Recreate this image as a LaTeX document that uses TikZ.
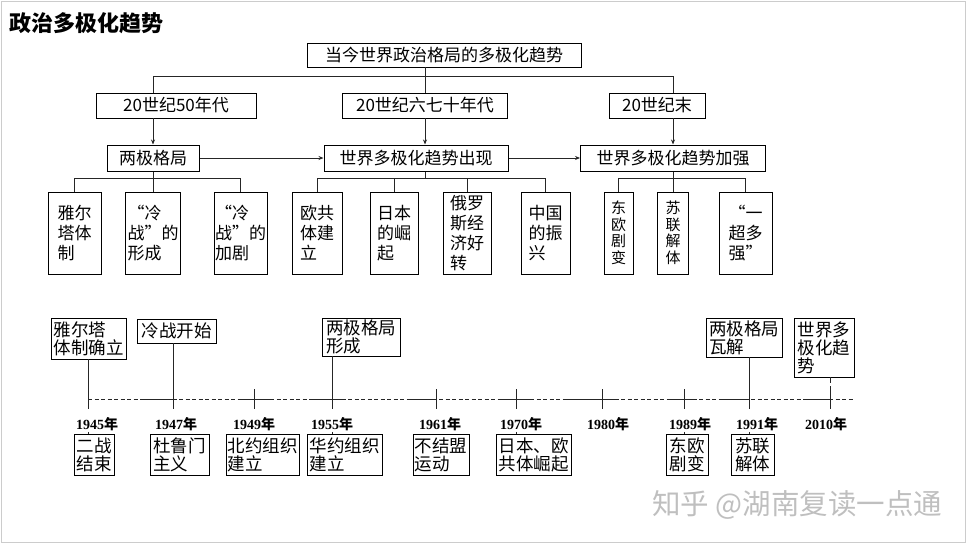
\documentclass[tikz,border=0pt]{standalone}
\usepackage{fontspec}
\setmainfont{Liberation Serif}
\newfontfamily\cjk{Noto Sans CJK SC}
\usetikzlibrary{arrows.meta}
\newcommand\myfs[2]{\fontsize{#1}{#2}\selectfont}
\begin{document}
\begin{tikzpicture}[x=1pt,y=-1pt,
  box/.style={draw, line width=0.9pt, fill=white, inner sep=0pt, align=center},
  lbox/.style={draw, line width=0.9pt, fill=white, inner sep=0pt, align=left},
  wh/.style 2 args={minimum width=#1pt, minimum height=#2pt},
  ln/.style={line width=0.8pt, black!85},
  arr/.style={line width=0.8pt, black!85, -{Stealth[length=5pt,width=4pt]}},
  t17/.style={font=\cjk\myfs{17}{19}},
  tv/.style={font=\cjk\myfs{17}{20}},
  tv4/.style={font=\cjk\myfs{15}{16.5}},
  tl/.style={font=\cjk\myfs{17.5}{18}},
  yr/.style={font=\bfseries\myfs{14}{16}, inner sep=1pt}]
\useasboundingbox (0,0) rectangle (969,544);
\draw[black!20, line width=1pt] (1.5,1.5) rectangle (965,542.5);

% title
\node[font=\cjk\bfseries\myfs{22}{24}, anchor=west, inner sep=0pt] (title) at (9,23) {政治多极化趋势};

% top tree
\node[box, wh={274}{24}, t17] (top) at (444,55) {当今世界政治格局的多极化趋势};
\node[box, wh={160}{25}, t17] (r2a) at (176,105.5) {20{\cjk 世纪}50{\cjk 年代}};
\node[box, wh={165}{25}, t17] (r2b) at (425,105.5) {20{\cjk 世纪六七十年代}};
\node[box, wh={96}{25}, t17] (r2c) at (657,105.5) {20{\cjk 世纪末}};

\node[box, wh={92}{26}, t17, line width=1pt] (r3a) at (153,158) {两极格局};
\node[box, wh={184}{26}, t17, line width=1pt] (r3b) at (416,158) {世界多极化趋势出现};
\node[box, wh={185}{26}, t17, line width=1pt] (r3c) at (673,158) {世界多极化趋势加强};

\draw[ln] (r3a.north |- 0,76) -- (r3c.north |- 0,76);
\draw[ln] (r2b.north |- top.south) -- (r2b.north);
\draw[ln] (r3a.north |- 0,76) -- (r3a.north |- r2a.north);
\draw[ln] (r3c.north |- 0,76) -- (r3c.north |- r2c.north);
\draw[arr] (r3a.north |- r2a.south) -- (r3a.north);
\draw[arr] (r2b.south) -- (r2b.south |- r3b.north);
\draw[arr] (r3c.north |- r2c.south) -- (r3c.north);
\draw[arr] (r3a.east) -- (r3b.west);
\draw[arr] (r3b.east) -- (r3c.west);

% row 4 boxes
\node[lbox, wh={53}{82}, tv] (b1) at (74.5,233) {雅尔\\塔体\\制};
\node[lbox, wh={55}{82}, tv] (b2) at (153,233) {“冷\\战”的\\形成};
\node[lbox, wh={53}{82}, tv] (b3) at (240.5,233) {“冷\\战”的\\加剧};
\node[lbox, wh={50}{82}, tv] (b4) at (317,233) {欧共\\体建\\立};
\node[lbox, wh={48}{82}, tv] (b5) at (394,233) {日本\\的崛\\起};
\node[lbox, wh={48}{82}, tv] (b6) at (467,233) {俄罗\\斯经\\济好\\转};
\node[lbox, wh={49}{82}, tv] (b7) at (545.5,233) {中国\\的振\\兴};
\node[box, wh={29}{82}, tv4] (b8) at (618.5,233) {东\\欧\\剧\\变};
\node[box, wh={31}{82}, tv4] (b9) at (673,233) {苏\\联\\解\\体};
\node[lbox, wh={53}{82}, tv] (b10) at (745.5,233) {“一\\超多\\强”};

\draw[ln] (r3a.south) -- (b2.north);
\draw[ln] (b1.north) -- ++(0,-13) -| (b3.north);
\draw[ln] (b4.north) -- ++(0,-13) -| (b7.north);
\draw[ln] (b5.north) -- ++(0,-13);
\draw[ln] (b6.north) -- ++(0,-13);
\draw[ln] (r2b.south |- r3b.south) -- (r2b.south |- 0,179);
\draw[ln] (r3c.south) -- (b9.north);
\draw[ln] (b8.north) -- ++(0,-13) -| (b10.north);

% timeline axis
\coordinate (t1) at (88,399);
\coordinate (t2) at (173,399);
\coordinate (t3) at (254,399);
\coordinate (t4) at (332,399);
\coordinate (t5) at (436,399);
\coordinate (t6) at (516,399);
\coordinate (t7) at (602,399);
\coordinate (t8) at (684,399);
\coordinate (t9) at (749,399);
\coordinate (t10) at (830,399);
\coordinate (axR) at (853,399);
\draw[ln, dash pattern=on 4pt off 2.5pt] (t1) -- (axR);
\foreach \a/\b in {140/173,240/272,313/345,410/436,500/530,563/617,670/697,720/750,807/830}
  \draw[ln] (\a,399) -- (\b,399);
\foreach \t in {t1,t2,t3,t4,t5,t6,t7,t8,t9,t10}
  \draw[ln, line width=1pt] (\t) ++(0,-10) -- ++(0,20);

% year labels
\node[yr] (y1) at (97,424) {1945{\cjk 年}};
\node[yr] (y2) at (176,424) {1947{\cjk 年}};
\node[yr] (y3) at (254,424) {1949{\cjk 年}};
\node[yr] (y4) at (332,424) {1955{\cjk 年}};
\node[yr] (y5) at (440,424) {1961{\cjk 年}};
\node[yr] (y6) at (521,424) {1970{\cjk 年}};
\node[yr] (y7) at (608,424) {1980{\cjk 年}};
\node[yr] (y8) at (690,424) {1989{\cjk 年}};
\node[yr] (y9) at (757,424) {1991{\cjk 年}};
\node[yr] (y10) at (826,424) {2010{\cjk 年}};

% upper event boxes
\node[lbox, wh={75}{41}, tl] (u1) at (88.5,338.5) {雅尔塔\\体制确立};
\node[lbox, wh={79}{24}, tl] (u2) at (176.5,331) {冷战开始};
\node[lbox, wh={78}{38}, tl] (u3) at (361,337) {两极格局\\形成};
\node[lbox, wh={76}{39}, tl] (u4) at (744,337.5) {两极格局\\瓦解};
\node[lbox, wh={60}{59}, tl] (u5) at (824,347.5) {世界多\\极化趋\\势};
\draw[ln] (t1 |- u1.south) -- (t1);
\draw[ln] (t2 |- u2.south) -- (t2);
\draw[ln] (t4 |- u3.south) -- (t4);
\draw[ln] (t9 |- u4.south) -- (t9);
\draw[ln, dash pattern=on 6pt off 3pt] (t10 |- u5.south) -- (t10);

% lower event boxes
\node[lbox, wh={40}{41}, tl] (l1) at (94,454.5) {二战\\结束};
\node[lbox, wh={59}{41}, tl] (l2) at (179.5,454.5) {杜鲁门\\主义};
\node[lbox, wh={73}{41}, tl] (l3) at (262.5,454.5) {北约组织\\建立};
\node[lbox, wh={75}{41}, tl] (l4) at (344.5,454.5) {华约组织\\建立};
\node[lbox, wh={56}{41}, tl] (l5) at (441,454.5) {不结盟\\运动};
\node[lbox, wh={75}{41}, tl] (l6) at (533.5,454.5) {日本、欧\\共体崛起};
\node[lbox, wh={42}{41}, tl] (l7) at (687,454.5) {东欧\\剧变};
\node[lbox, wh={43}{41}, tl] (l8) at (752.5,454.5) {苏联\\解体};
\draw[ln] (t1 |- y1.south) -- (t1 |- l1.north);
\draw[ln] (t4 |- y4.south) -- (t4 |- l4.north);
\draw[ln] (t6 |- y6.south) -- (t6 |- l6.north);
\draw[ln] (t8 |- y8.south) -- (t8 |- l7.north);
\draw[ln] (t9 |- y9.south) -- (t9 |- l8.north);

% watermark
\node[font=\cjk\myfs{28.5}{30}, text=black!25, anchor=west, inner sep=0pt] (wm) at (652,505) {知乎 @湖南复读一点通};
\end{tikzpicture}
\end{document}
